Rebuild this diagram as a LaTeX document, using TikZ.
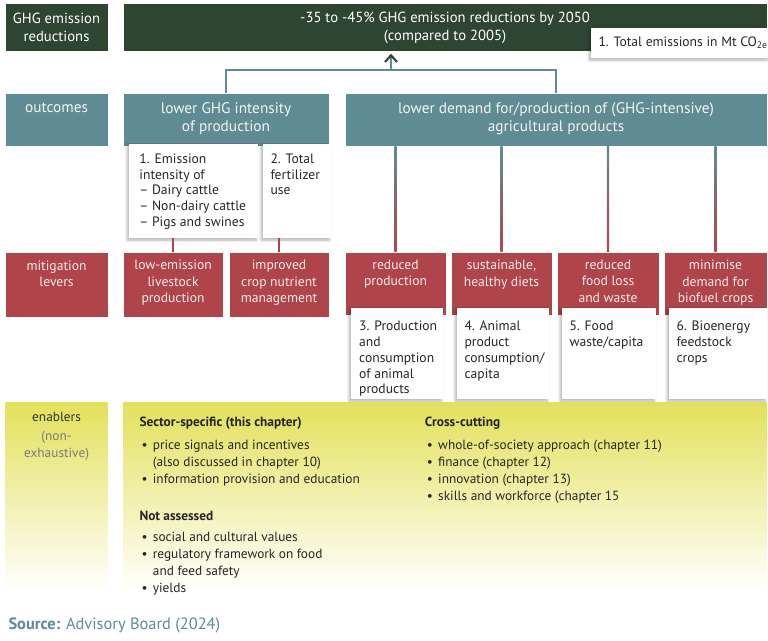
\documentclass[tikz,border=0pt]{standalone}
\usepackage{fontspec}
\setmainfont{PT Sans}
\usetikzlibrary{
  arrows.meta,   % arrow tips
  shadows.blur   % soft shadows under the white notes
}
\definecolor{ghgdark}{HTML}{2E4631}
\definecolor{outteal}{HTML}{5F8B94}
\definecolor{levred}{HTML}{B0444B}
\definecolor{enabyel}{HTML}{E3E15A}
\definecolor{notegray}{HTML}{7A7A7A}
\def\pxu{0.75pt}
\newcommand{\itm}[1]{\textbullet\hspace{4pt}#1}
\newcommand{\itmgap}{\hphantom{\textbullet\hspace{4pt}}}
\tikzset{
  wh/.style 2 args={minimum width=#1*\pxu, minimum height=#2*\pxu},
  cell/.style={
    rectangle,
    inner sep=0pt,
    anchor=north west
  },
  goalbox/.style={cell, fill=ghgdark},
  outbox/.style={cell, fill=outteal},
  levbox/.style={cell, fill=levred},
  enabbox/.style={cell, top color=enabyel, bottom color=white},
  note/.style={
    cell,
    fill=white,
    blur shadow={shadow xshift=-1pt, shadow yshift=-2pt,
      shadow blur steps=6, shadow opacity=30}
  },
  goaltxt/.style={
    align=center,
    inner sep=0pt,
    text=white,
    font=\fontsize{11}{13.5}\selectfont
  },
  outtxt/.style={
    anchor=north,
    align=center,
    inner sep=0pt,
    text=white!92!outteal,
    font=\fontsize{11.5}{13.5}\selectfont
  },
  levtxt/.style={
    anchor=north,
    align=center,
    inner sep=0pt,
    text=white!90!levred,
    font=\fontsize{10.2}{12.4}\selectfont
  },
  notetxt/.style={
    anchor=north west,
    align=left,
    inner sep=0pt,
    text=black!85,
    font=\fontsize{10.2}{11.9}\selectfont
  },
  enabtxt/.style={
    anchor=north west,
    align=left,
    inner sep=0pt,
    text=black!85,
    font=\fontsize{10}{12.75}\selectfont
  },
  link/.style={draw=outteal, line width=1.6pt},
  redlink/.style={draw=levred, line width=1.8pt}
}

\begin{document}
\begin{tikzpicture}[x=0.75pt, y=-0.75pt, line width=0.8pt]
  \useasboundingbox (0,0) rectangle (768,641);

  % ==== 1. goal row ====
  \node[goalbox, wh={102}{47}] (rowgoal) at (5,3) {};
  \node[goaltxt] (rowgoal-t) at (rowgoal.center) {GHG emission\\reductions};
  \node[goalbox, wh={643}{47}] (goal) at (123,3) {};
  \node[goaltxt] (goal-t) at ([yshift=-1pt]goal.center)
    {-35 to -45\% GHG emission reductions by 2050\\(compared to 2005)};
  \node[note, wh={178}{30}] (total) at (590,27) {};
  \node[notetxt, anchor=west] (total-t) at ([xshift=6pt]total.west)
    {1. Total emissions in Mt CO\textsubscript{2e}};

  % ==== 2. outcomes row ====
  \node[outbox, wh={102}{52}] (rowout) at (5,93) {};
  \node[outtxt] (rowout-t) at ([yshift=-7pt]rowout.north) {outcomes};
  \node[outbox, wh={205}{52}] (int) at (123,93) {};
  \node[outtxt] (int-t) at ([yshift=-7pt]int.north)
    {lower GHG intensity\\of production};
  \node[outbox, wh={421}{52}] (dem) at (345,93) {};
  \node[outtxt] (dem-t) at ([yshift=-7pt]dem.north)
    {lower demand for/production of (GHG-intensive)\\agricultural products};

  % connector up to the goal
  \path (int.north) ++(0,-23) coordinate (jl);
  \path (dem.north) ++(0,-23) coordinate (jr);
  \path (jl) -- (jr) coordinate[midway] (jm);
  \draw[link] (int.north) -- (jl) -- (jr) -- (dem.north);
  \draw[link, -{Straight Barb[length=5pt, width=9pt, color=ghgdark]}]
    (jm) -- ([yshift=-2pt]jm |- goal.south);

  % notes under the intensity box
  \node[note, wh={129}{94}] (n1) at (128,143) {};
  \node[notetxt] (n1-t) at ([xshift=8.2pt, yshift=-7.5pt]n1.north west)
    {1. Emission\\intensity of\\-- Dairy cattle\\-- Non-dairy cattle\\-- Pigs and swines};
  \node[note, wh={68}{94}] (n2) at (262,143) {};
  \node[notetxt] (n2-t) at ([xshift=6pt, yshift=-7.5pt]n2.north west)
    {2. Total\\fertilizer\\use};

  % ==== 3. mitigation levers row ====
  \node[levbox, wh={102}{64}] (rowlev) at (5,252) {};
  \node[levtxt] (rowlev-t) at ([yshift=-6pt]rowlev.north) {mitigation\\levers};
  \node[levbox, wh={99}{64}] (lev1) at (123,252) {};
  \node[levtxt] (lev1-t) at ([yshift=-5.5pt]lev1.north) {low-emission\\livestock\\production};
  \node[levbox, wh={99}{64}] (lev2) at (229,252) {};
  \node[levtxt] (lev2-t) at ([yshift=-5.5pt]lev2.north) {improved\\crop nutrient\\management};
  \node[levbox, wh={100}{62}] (lev3) at (345,252) {};
  \node[levtxt] (lev3-t) at ([yshift=-5.5pt]lev3.north) {reduced\\production};
  \node[levbox, wh={100}{62}] (lev4) at (451,252) {};
  \node[levtxt] (lev4-t) at ([yshift=-5.5pt]lev4.north) {sustainable,\\healthy diets};
  \node[levbox, wh={101}{62}] (lev5) at (557,252) {};
  \node[levtxt] (lev5-t) at ([yshift=-5.5pt]lev5.north) {reduced\\food loss\\and waste};
  \node[levbox, wh={102}{62}] (lev6) at (664,252) {};
  \node[levtxt] (lev6-t) at ([yshift=-5.5pt]lev6.north) {minimise\\demand for\\biofuel crops};

  % connectors to the levers
  \draw[redlink] (n1.south -| lev1.north) -- (lev1.north);
  \draw[redlink] (n2.south -| lev2.north) -- (lev2.north);
  \foreach \k in {3,4,5,6}{
    \coordinate (top\k) at (dem.south -| lev\k.north);
    \shade[top color=outteal, bottom color=levred]
      ([xshift=-0.9pt]top\k) rectangle ([xshift=0.9pt]lev\k.north);
  }

  % notes under the levers
  \node[note, wh={92}{91}] (n3) at (350,307) {};
  \node[notetxt] (n3-t) at ([xshift=6.5pt, yshift=-10pt]n3.north west)
    {3. Production\\and\\consumption\\of animal\\products};
  \node[note, wh={92}{91}] (n4) at (456,307) {};
  \node[notetxt] (n4-t) at ([xshift=6pt, yshift=-10pt]n4.north west)
    {4. Animal\\product\\consumption/\\capita};
  \node[note, wh={94}{91}] (n5) at (561,307) {};
  \node[notetxt] (n5-t) at ([xshift=6pt, yshift=-10pt]n5.north west)
    {5. Food\\waste/capita};
  \node[note, wh={98}{91}] (n6) at (668,307) {};
  \node[notetxt] (n6-t) at ([xshift=6pt, yshift=-10pt]n6.north west)
    {6. Bioenergy\\feedstock\\crops};

  % ==== 4. enablers row ====
  \node[enabbox, wh={102}{188}] (rowenab) at (5,402) {};
  \node[levtxt, text=black!80, font=\fontsize{10}{12.75}\selectfont] (rowenab-t)
    at ([yshift=-7pt]rowenab.north)
    {enablers\\[2pt]\textcolor{notegray}{(non-}\\\textcolor{notegray}{exhaustive)}};
  \node[enabbox, wh={643}{188}] (enab) at (123,402) {};
  \node[enabtxt] (sect-h) at ([xshift=12pt, yshift=-10.5pt]enab.north west)
    {\bfseries Sector-specific (this chapter)};
  \node[enabtxt] (sect-l) at ([xshift=1.5pt, yshift=-7.5pt]sect-h.south west)
    {\itm{price signals and incentives}\\
     \itmgap(also discussed in chapter 10)\\
     \itm{information provision and education}};
  \node[enabtxt] (nass-h) at ([yshift=-61pt]sect-h.south west)
    {\bfseries Not assessed};
  \node[enabtxt] (nass-l) at ([xshift=1.5pt, yshift=-7.5pt]nass-h.south west)
    {\itm{social and cultural values}\\
     \itm{regulatory framework on food}\\
     \itmgap and feed safety\\
     \itm{yields}};
  \node[enabtxt] (cross-h) at ([xshift=226pt, yshift=-10.5pt]enab.north west)
    {\bfseries Cross-cutting};
  \node[enabtxt] (cross-l) at ([xshift=1.5pt, yshift=-7.5pt]cross-h.south west)
    {\itm{whole-of-society approach (chapter 11)}\\
     \itm{finance (chapter 12)}\\
     \itm{innovation (chapter 13)}\\
     \itm{skills and workforce (chapter 15}};

  % ==== source ====
  \node[anchor=west, inner sep=0pt, text=outteal, font=\fontsize{12.3}{14}\selectfont]
    (source) at (8,625) {\textbf{Source:} Advisory Board (2024)};
\end{tikzpicture}
\end{document}
